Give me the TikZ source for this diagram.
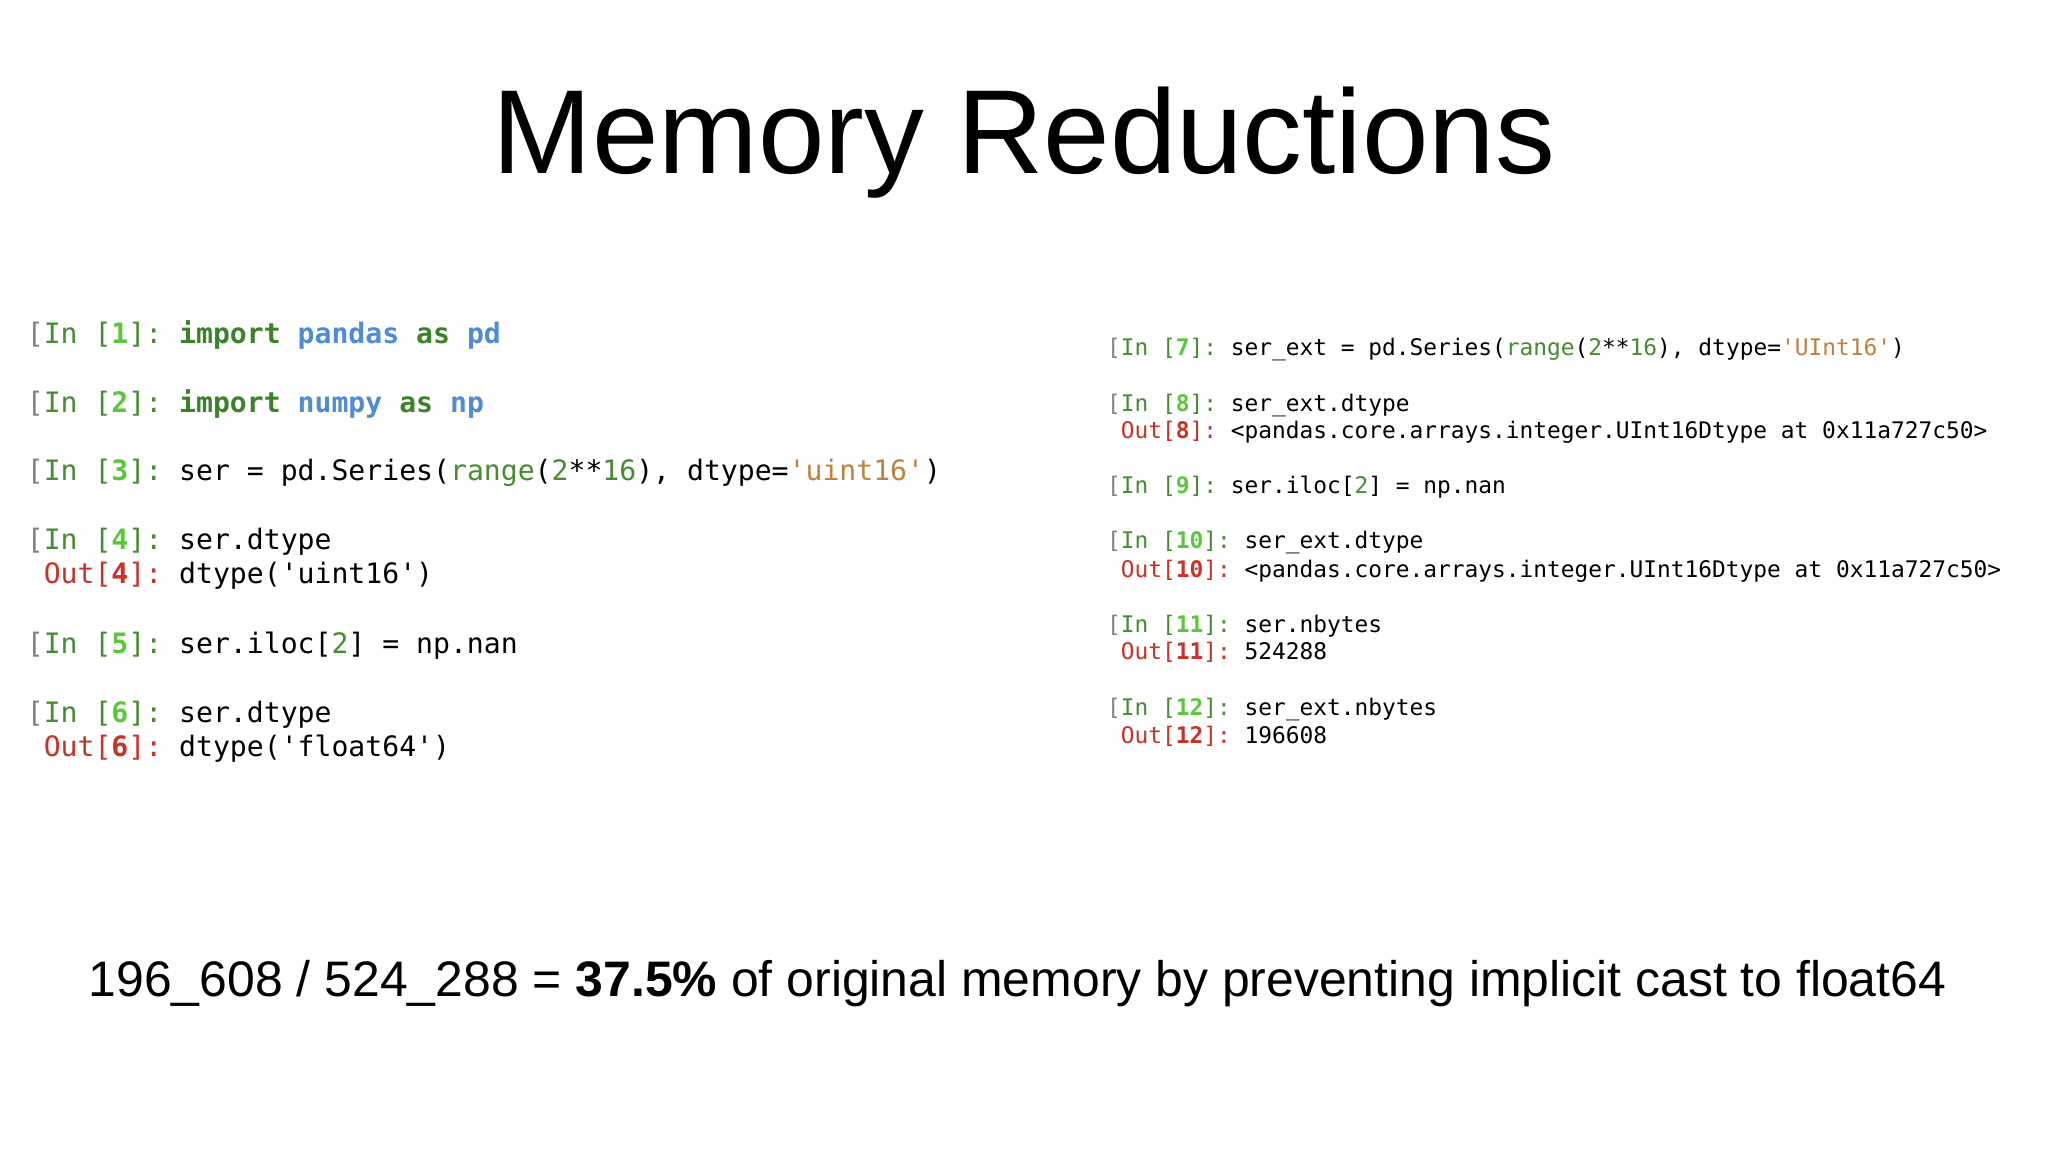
\documentclass[tikz,border=0pt]{standalone}
\usepackage{fontspec}
\setmainfont{Liberation Sans}
\setmonofont{DejaVu Sans Mono}
\definecolor{pgreen}{RGB}{70,140,50}
\definecolor{lgreen}{RGB}{90,200,60}
\definecolor{kwgreen}{RGB}{60,130,40}
\definecolor{modblue}{RGB}{80,140,210}
\definecolor{strcol}{RGB}{190,130,60}
\definecolor{outred}{RGB}{200,50,40}
\newcommand{\inp}[1]{{\color{gray}[}{\color{pgreen}In [}{\color{lgreen}\bfseries #1}{\color{pgreen}]:}}
\newcommand{\outp}[1]{\ {\color{outred}Out[{\bfseries #1}]:}}
\newcommand{\kw}[1]{{\color{kwgreen}\bfseries #1}}
\newcommand{\md}[1]{{\color{modblue}\bfseries #1}}
\newcommand{\st}[1]{{\color{strcol}#1}}
\newcommand{\nm}[1]{{\color{pgreen}#1}}
\begin{document}
\begin{tikzpicture}[
        x=0.1306mm, y=-0.1306mm,
        codeL/.style={anchor=base west, inner sep=0pt, font=\ttfamily\fontsize{8pt}{9pt}\selectfont},
        codeR/.style={anchor=base west, inner sep=0pt, font=\ttfamily\fontsize{6.5pt}{7.5pt}\selectfont}
    ]
    \useasboundingbox[fill=white] (0,0) rectangle (1568,882);

    % title
    \node[anchor=base, inner sep=0pt, font=\fontsize{34pt}{40pt}\selectfont] (title) at (784,133) {Memory Reductions};

    % left column
    \node[codeL] (l1) at (20,263) {\inp{1} \kw{import} \md{pandas} \kw{as} \md{pd}};
    \node[codeL] (l2) at (20,316) {\inp{2} \kw{import} \md{numpy} \kw{as} \md{np}};
    \node[codeL] (l3) at (20,368) {\inp{3} ser = pd.Series(\nm{range}(\nm{2}**\nm{16}), dtype=\st{'uint16'})};
    \node[codeL] (l4) at (20,421) {\inp{4} ser.dtype};
    \node[codeL] (o4) at (20,447) {\outp{4} dtype('uint16')};
    \node[codeL] (l5) at (20,500) {\inp{5} ser.iloc[\nm{2}] = np.nan};
    \node[codeL] (l6) at (20,553) {\inp{6} ser.dtype};
    \node[codeL] (o6) at (20,579) {\outp{6} dtype('float64')};

    % right column
    \node[codeR] (r7) at (847,272) {\inp{7} ser\_ext = pd.Series(\nm{range}(\nm{2}**\nm{16}), dtype=\st{'UInt16'})};
    \node[codeR] (r8) at (847,315) {\inp{8} ser\_ext.dtype};
    \node[codeR] (q8) at (847,336) {\outp{8} <pandas.core.arrays.integer.UInt16Dtype at 0x11a727c50>};
    \node[codeR] (r9) at (847,378) {\inp{9} ser.iloc[\nm{2}] = np.nan};
    \node[codeR] (r10) at (847,420) {\inp{10} ser\_ext.dtype};
    \node[codeR] (q10) at (847,442) {\outp{10} <pandas.core.arrays.integer.UInt16Dtype at 0x11a727c50>};
    \node[codeR] (r11) at (847,484) {\inp{11} ser.nbytes};
    \node[codeR] (q11) at (847,505) {\outp{11} 524288};
    \node[codeR] (r12) at (847,548) {\inp{12} ser\_ext.nbytes};
    \node[codeR] (q12) at (847,569) {\outp{12} 196608};

    % summary
    \node[anchor=base, inner sep=0pt, font=\fontsize{14.2pt}{17pt}\selectfont] (summary) at (779,763)
        {196\_608 / 524\_288 = \textbf{37.5\%} of original memory by preventing implicit cast to float64};
\end{tikzpicture}
\end{document}
